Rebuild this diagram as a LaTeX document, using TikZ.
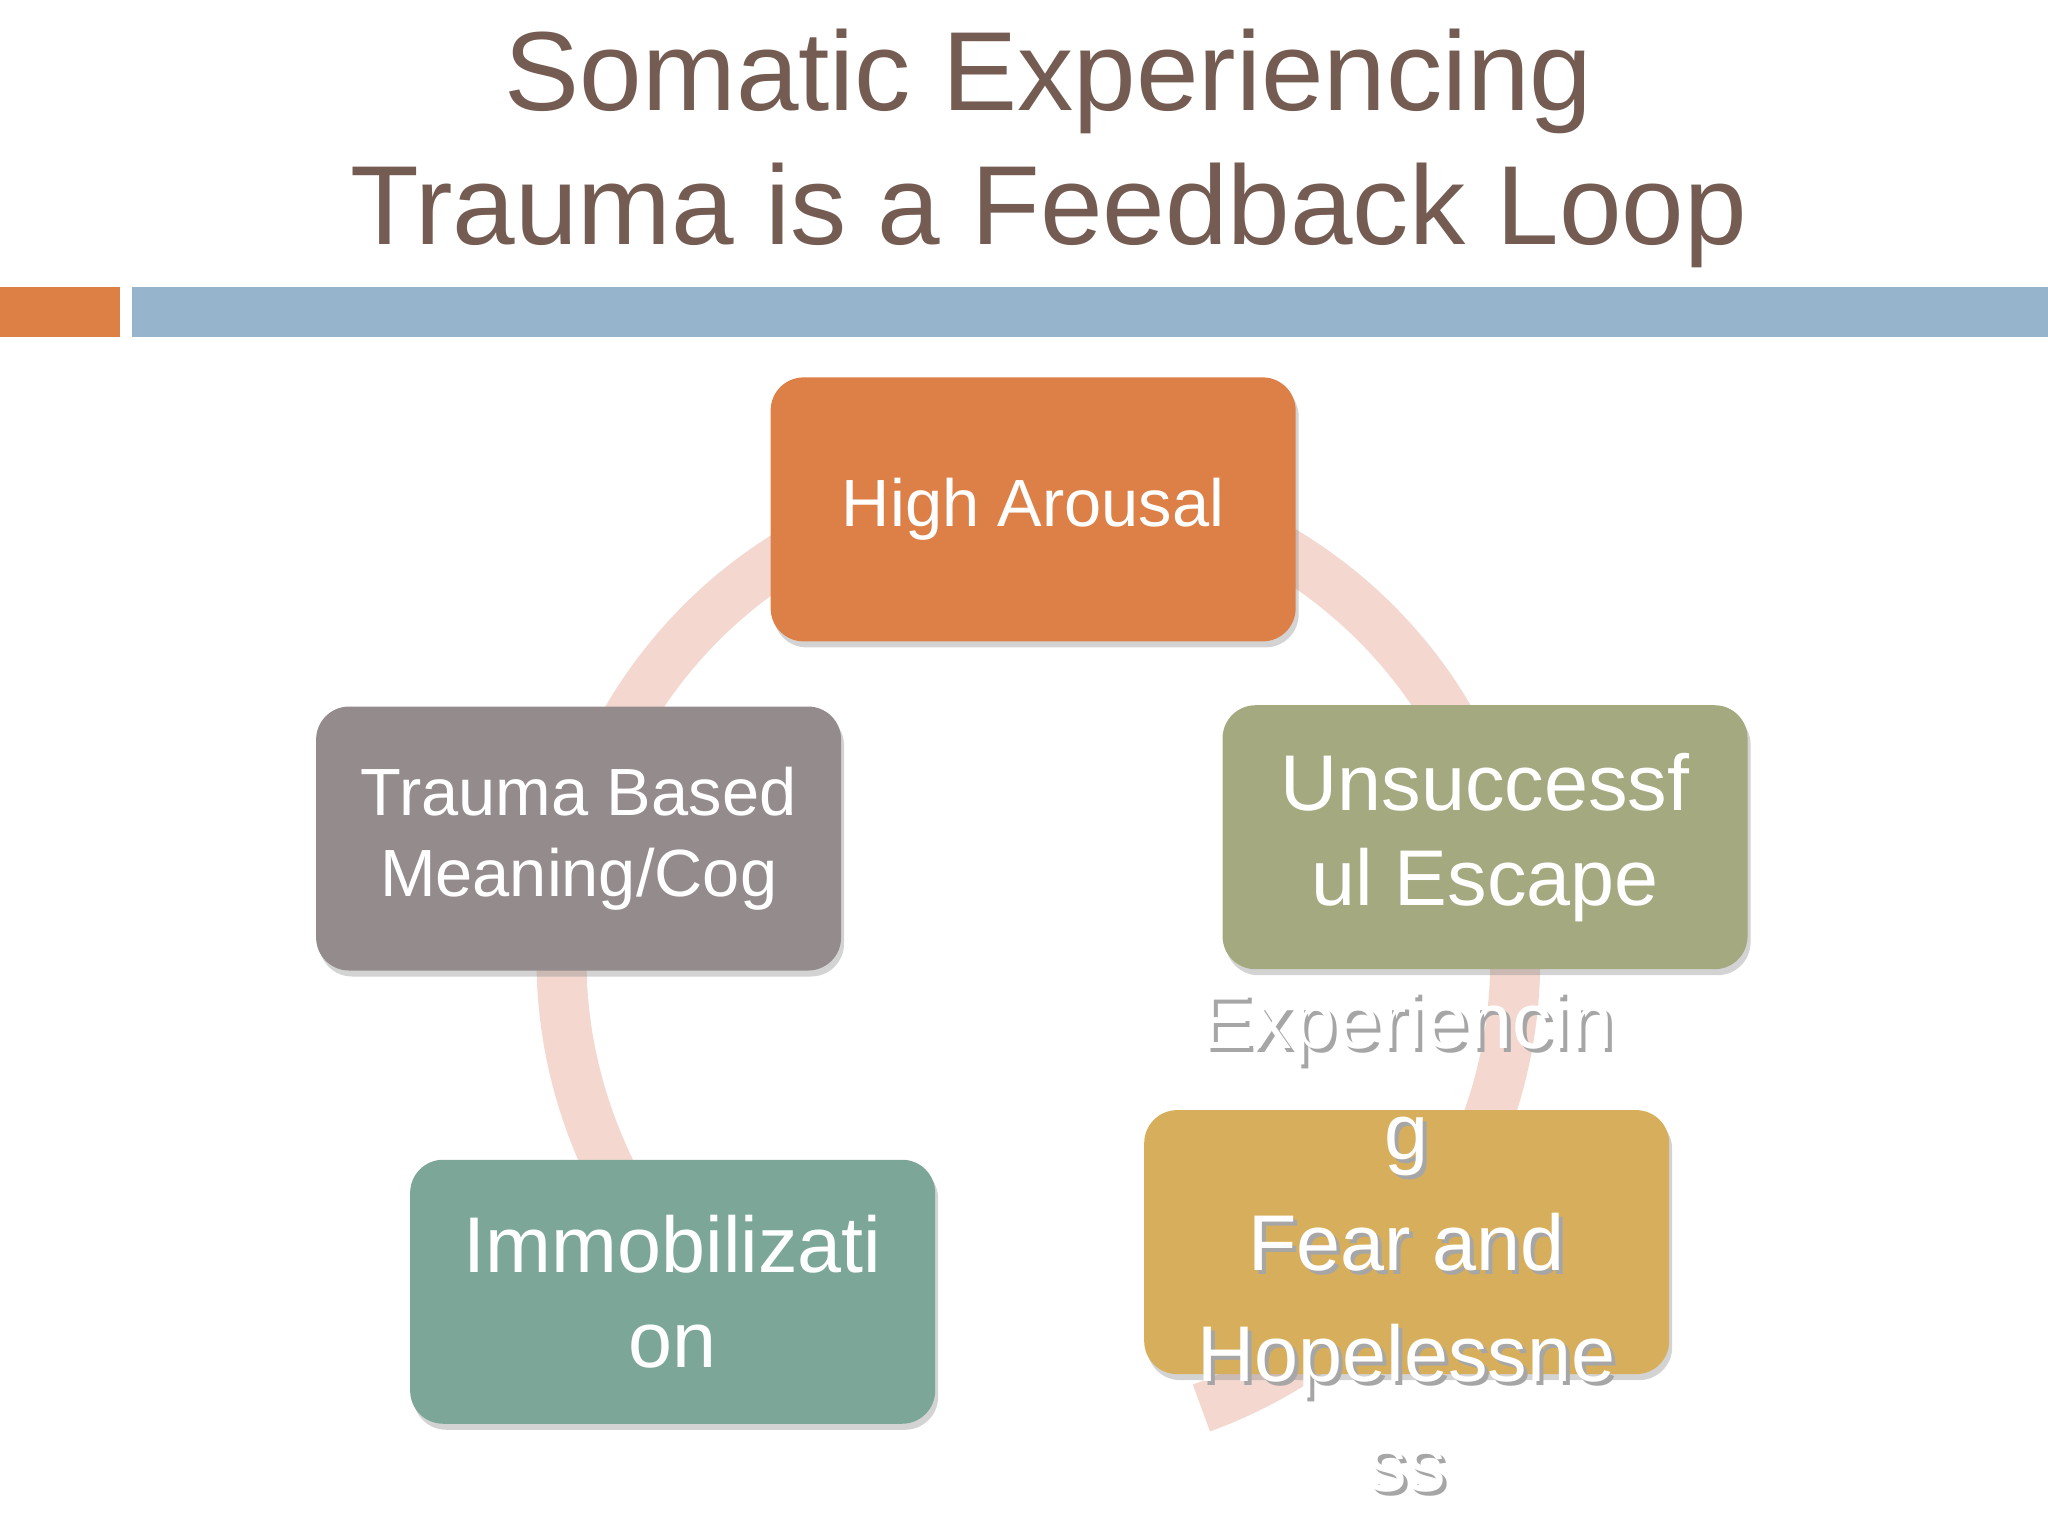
\documentclass[tikz,border=0pt]{standalone}
\usepackage{fontspec}
\setmainfont{Liberation Sans}
\usetikzlibrary{arrows.meta,shadows}

\definecolor{titlebrown}{RGB}{117,92,82}
\definecolor{barorange}{RGB}{221,128,70}
\definecolor{barblue}{RGB}{150,181,205}
\definecolor{looppink}{RGB}{244,216,208}
\definecolor{arousalcol}{RGB}{221,128,72}
\definecolor{escapecol}{RGB}{164,169,127}
\definecolor{fearcol}{RGB}{215,175,92}
\definecolor{immobcol}{RGB}{124,167,152}
\definecolor{traumacol}{RGB}{148,139,141}

\tikzset{
  stage/.style={rounded corners=0.33cm, minimum width=5.25cm, minimum height=2.64cm,
    text=white, align=center, inner sep=2pt,
    drop shadow={shadow xshift=0.03cm, shadow yshift=-0.06cm, opacity=0.35}},
  small/.style={font=\fontsize{19}{23}\selectfont},
  big/.style={font=\fontsize{22.5}{27}\selectfont}
}

\begin{document}
\begin{tikzpicture}[x=0.01306cm, y=-0.01306cm]

	\useasboundingbox (0,0) rectangle (1568,1176);

	% Title
	\node[text=titlebrown, font=\fontsize{32}{38}\selectfont] (title1) at (803,62) {Somatic Experiencing};
	\node[text=titlebrown, font=\fontsize{32}{38}\selectfont] (title2) at (803,165) {Trauma is a Feedback Loop};

	% Bars
	\fill[barorange] (0,220) rectangle (92,258);
	\fill[barblue] (101,220) rectangle (1568,258);

	% Loop
	\draw[looppink, line width=0.5cm, -{Triangle[width=1.3cm, length=0.75cm]}]
		(795,735) ++(70:365) arc[start angle=70, end angle=-232, radius=365];

	% Stages
	\node[stage, small, fill=arousalcol] (arousal) at (791,390) {High Arousal};
	\node[stage, big, fill=escapecol] (escape) at (1137,641) {Unsuccessf\\ul Escape};
	\node[stage, small, fill=traumacol] (trauma) at (443,642) {Trauma Based\\Meaning/Cog};
	\node[stage, big, fill=immobcol] (immob) at (515,989) {Immobilizati\\on};
	\node[stage, fill=fearcol] (fear) at (1077,951) {};
	\node[big, text=gray!70, align=center, font=\fontsize{22.5}{31.5}\selectfont] at (1080,954)
		{Experiencin\\g\\Fear and\\Hopelessne\\ss};
	\node[big, text=white, align=center, font=\fontsize{22.5}{31.5}\selectfont] (feartext) at (1077,951)
		{Experiencin\\g\\Fear and\\Hopelessne\\ss};

\end{tikzpicture}
\end{document}
